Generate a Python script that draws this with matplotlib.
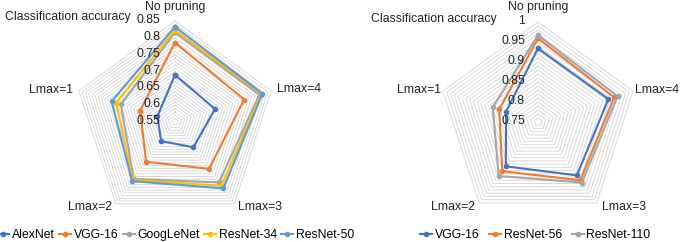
import numpy as np
import matplotlib
matplotlib.use("Agg")
import matplotlib.pyplot as plt
from matplotlib.lines import Line2D

plt.rcParams['font.family'] = ['Liberation Sans', 'DejaVu Sans']

categories = ["No pruning", "Lmax=4", "Lmax=3", "Lmax=2", "Lmax=1"]

# Left chart
left_series = ["AlexNet", "VGG-16", "GoogLeNet", "ResNet-34", "ResNet-50"]
alexnet = [0.690, 0.675, 0.643, 0.620, 0.605]
vgg16_a = [0.786, 0.766, 0.722, 0.696, 0.659]
googlenet = [0.816, 0.814, 0.772, 0.759, 0.719]
resnet34 = [0.823, 0.820, 0.784, 0.763, 0.734]
resnet50 = [0.833, 0.823, 0.794, 0.767, 0.748]
left_ticks = [0.55, 0.60, 0.65, 0.70, 0.75, 0.80, 0.85]
left_ticklabels = ["0.55", "0.6", "0.65", "0.7", "0.75", "0.8", "0.85"]

# Right chart
right_series = ["VGG-16", "ResNet-56", "ResNet-110"]
vgg16_b = [0.934, 0.935, 0.915, 0.887, 0.834]
resnet56 = [0.959, 0.950, 0.930, 0.902, 0.852]
resnet110 = [0.967, 0.959, 0.937, 0.917, 0.869]
right_ticks = [0.75, 0.80, 0.85, 0.90, 0.95, 1.00]
right_ticklabels = ["0.75", "0.8", "0.85", "0.9", "0.95", "1"]

axis_title = "Classification accuracy"

C_BLUE = "#4472C4"
C_ORANGE = "#ED7D31"
C_GRAY = "#A5A5A5"
C_GOLD = "#FFC000"
C_LBLUE = "#5B9BD5"

W, H = 685, 242
fig = plt.figure(figsize=(W / 100, H / 100), dpi=100)

FS = 8.8
GRID = "#d9d9d9"


def radar(rect, ticks, ticklabels, data, colors, label_offsets, tick_dx):
    ax = fig.add_axes(rect, projection="polar")
    ax.set_theta_offset(np.pi / 2)
    ax.set_theta_direction(-1)
    n = len(categories)
    theta = np.arange(n) * 2 * np.pi / n
    rmin, rmax = ticks[0], ticks[-1]
    ax.set_ylim(rmin, rmax)
    ax.grid(False)
    ax.set_xticks([])
    ax.set_yticks([])
    ax.spines["polar"].set_visible(False)
    ax.patch.set_visible(False)
    tc = np.append(theta, theta[0])
    steps = int(round((rmax - rmin) / 0.01))
    for k in range(1, steps + 1):
        r = rmin + k * 0.01
        ax.plot(tc, [r] * len(tc), color=GRID, lw=0.7, zorder=1, clip_on=False)
    for vals, c in zip(data, colors):
        v = np.append(vals, vals[0])
        ax.plot(tc, v, color=c, lw=1.5, marker="o", ms=3, zorder=3, clip_on=False)
    for cat, th, (dx, dy, ha) in zip(categories, theta, label_offsets):
        ax.annotate(cat, xy=(th, rmax), xytext=(dx, dy), textcoords="offset pixels",
                    ha=ha, va="center", fontsize=FS, color="#222222", annotation_clip=False)
    for t, tl in zip(ticks, ticklabels):
        ax.annotate(tl, xy=(0, t), xytext=(tick_dx, 1), textcoords="offset pixels",
                    ha="right", va="center", fontsize=FS, color="#222222", annotation_clip=False)
    return ax


# left chart: center (175,122), R=101
cxL, cyL, RL = 175, 122, 101
rectL = [(cxL - RL) / W, (H - cyL - RL) / H, 2 * RL / W, 2 * RL / H]
offsL = [(0, 14, "center"), (6, 2, "left"), (4, -3, "left"), (-4, -3, "right"), (-6, 1, "right")]
radar(rectL, left_ticks, left_ticklabels,
      [alexnet, vgg16_a, googlenet, resnet34, resnet50],
      [C_BLUE, C_ORANGE, C_GRAY, C_GOLD, C_LBLUE], offsL, -15)

# right chart: center (538,122), R=100
cxR, cyR, RR = 538, 122, 100
rectR = [(cxR - RR) / W, (H - cyR - RR) / H, 2 * RR / W, 2 * RR / H]
offsR = [(0, 15, "center"), (2, 1, "left"), (5, -4, "left"), (-4, -4, "right"), (-2, 1, "right")]
radar(rectR, right_ticks, right_ticklabels,
      [vgg16_b, resnet56, resnet110],
      [C_BLUE, C_ORANGE, C_GRAY], offsR, -13)

fig.text(131 / W, 1 - 17 / H, axis_title, ha="right", va="center", fontsize=FS, color="#222222")
fig.text(497 / W, 1 - 19 / H, axis_title, ha="right", va="center", fontsize=FS, color="#222222")

# legends
def handles(colors, names):
    return [Line2D([0], [0], color=c, lw=1.5, marker="o", ms=3) for c in colors], names

hL, nL = handles([C_BLUE, C_ORANGE, C_GRAY, C_GOLD, C_LBLUE], left_series)
fig.legend(hL, nL, loc="center left", bbox_to_anchor=(-0.004, 1 - 235 / H), ncol=5,
           frameon=False, fontsize=FS, handlelength=1.0, handletextpad=0.2,
           columnspacing=0.35, borderaxespad=0, borderpad=0)

hR, nR = handles([C_BLUE, C_ORANGE, C_GRAY], right_series)
fig.legend(hR, nR, loc="center left", bbox_to_anchor=(420 / W, 1 - 235 / H), ncol=3,
           frameon=False, fontsize=FS, handlelength=1.0, handletextpad=0.2,
           columnspacing=0.8, borderaxespad=0, borderpad=0)

fig.savefig("out.png", dpi=100, facecolor="white")
